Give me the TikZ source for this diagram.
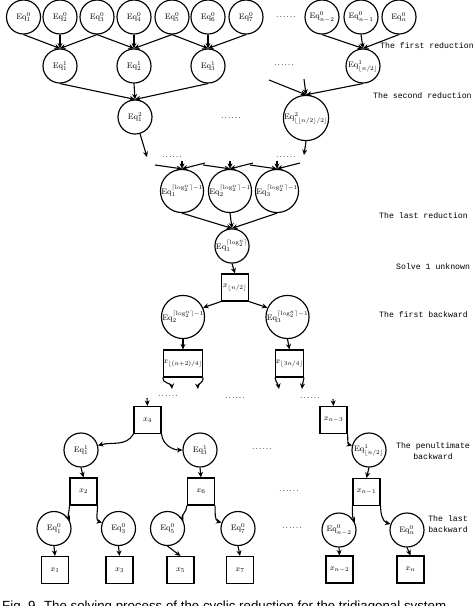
\documentclass[tikz,border=0pt]{standalone}
\usepackage{fontspec}
\usepackage{amsmath}
\newfontfamily\labfont{Liberation Mono}
\newfontfamily\capfont{Liberation Sans}
\usetikzlibrary{arrows.meta}
\begin{document}
\begin{tikzpicture}[x=1pt,y=1pt,
  eqc/.style={circle,draw,line width=1.15pt,minimum size=34pt,inner sep=0pt,font=\fontsize{8}{9}\selectfont},
  xbox/.style={rectangle,draw,line width=1.15pt,minimum size=27pt,inner sep=0pt,font=\fontsize{8}{9}\selectfont},
  arr/.style={-{Stealth[length=5.5pt,width=5pt]},line width=1.1pt},
  lab/.style={font=\labfont\fontsize{8.2}{10}\selectfont,anchor=base west,inner sep=0pt},
  labc/.style={font=\labfont\fontsize{8.2}{10.5}\selectfont,align=center,inner sep=0pt},
  dotsn/.style={font=\labfont\fontsize{5.8}{7}\selectfont,inner sep=0pt}]
\useasboundingbox (0,0) rectangle (474,-606);
% top row
\node[eqc] (a1) at (23.5,-17) {$\mathrm{Eq}_1^0$};
\node[eqc] (a2) at (60,-17) {$\mathrm{Eq}_2^0$};
\node[eqc] (a3) at (97,-17) {$\mathrm{Eq}_3^0$};
\node[eqc] (a4) at (134,-17) {$\mathrm{Eq}_4^0$};
\node[eqc] (a5) at (172,-17) {$\mathrm{Eq}_5^0$};
\node[eqc] (a6) at (208,-17) {$\mathrm{Eq}_6^0$};
\node[eqc] (a7) at (246,-17) {$\mathrm{Eq}_7^0$};
\node[dotsn] (t0) at (286,-17) {......};
\node[eqc] (an2) at (322,-17) {$\mathrm{Eq}_{n-2}^0$};
\node[eqc] (an1) at (361,-17) {$\mathrm{Eq}_{n-1}^0$};
\node[eqc] (an) at (399,-17) {$\mathrm{Eq}_n^0$};
% level 1
\node[eqc] (b1) at (60,-66) {$\mathrm{Eq}_1^1$};
\node[eqc] (b2) at (134,-66) {$\mathrm{Eq}_2^1$};
\node[eqc] (b3) at (208,-66) {$\mathrm{Eq}_3^1$};
\node[dotsn] (t1) at (284,-65) {......};
\node[eqc] (bn) at (363,-66) {$\mathrm{Eq}_{\lfloor n/2\rfloor}^1$};
\foreach \s/\t in {a1/b1,a2/b1,a3/b1,a3/b2,a4/b2,a5/b2,a5/b3,a6/b3,a7/b3,an2/bn,an1/bn,an/bn}
  \draw[arr] (\s.south) -- (\t.north);
% level 2
\node[eqc] (c1) at (135,-117) {$\mathrm{Eq}_1^2$};
\node[dotsn] (t2) at (231,-118) {......};
\node[eqc] (cn) at (306,-118) {$\mathrm{Eq}_{\lfloor\lfloor n/2\rfloor/2\rfloor}^2$};
\foreach \s in {b1,b2,b3} \draw[arr] (\s.south) -- (c1.north);
\coordinate (cu1) at (269,-80);
\coordinate (cu2) at (304,-79);
\draw[arr] (bn.south) -- (cn.north);
\draw[arr] (cu1) -- (cn.north);
\draw[arr] (cu2) -- (cn.north);
\coordinate (co1) at (147,-157);
\coordinate (co2) at (304,-155);
\draw[arr] (c1) -- (co1);
\draw[arr] (cn.south) -- (co2);
\node[dotsn] (t3) at (172,-157) {......};
\node[dotsn] (t4) at (286,-157) {......};
% log-1 level
\node[eqc] (d1) at (182,-191) {$\mathrm{Eq}_1^{\lceil\log_2^n\rceil-1}$};
\node[eqc] (d2) at (230,-191) {$\mathrm{Eq}_2^{\lceil\log_2^n\rceil-1}$};
\node[eqc] (d3) at (277,-191) {$\mathrm{Eq}_3^{\lceil\log_2^n\rceil-1}$};
\foreach \n/\x in {d1/182,d2/230,d3/277}{
  \coordinate (\n l) at (\x-27,-165);
  \coordinate (\n m) at (\x,-161);
  \coordinate (\n r) at (\x+23,-163);
  \draw[arr] (\n l) -- (\n.north);
  \draw[arr] (\n m) -- (\n.north);
  \draw[arr] (\n r) -- (\n.north);
}
\node[eqc] (e) at (232,-246) {$\mathrm{Eq}_1^{\lceil\log_2^n\rceil}$};
\foreach \s in {d1,d2,d3} \draw[arr] (\s.south) -- (e.north);
\node[xbox] (xm) at (235,-287.5) {$x_{\lfloor n/2\rfloor}$};
\draw[arr] (e.south) -- (xm.north);
% first backward
\node[eqc] (f2) at (183,-317) {$\mathrm{Eq}_2^{\lceil\log_2^n\rceil-1}$};
\node[eqc] (f3) at (287.5,-317) {$\mathrm{Eq}_3^{\lceil\log_2^n\rceil-1}$};
\draw[arr] (xm.south west) -- (f2.25);
\draw[arr] (xm.south east) -- (f3.155);
\node[xbox] (g1) at (183,-363.5) {$x_{\lfloor (n+2)/4\rfloor}$};
\node[xbox] (g2) at (289.5,-363.5) {$x_{\lfloor 3n/4\rfloor}$};
\draw[arr] (f2.south) -- (g1.north);
\draw[arr] (f3.south) -- (g2.north);
\coordinate (gla) at (172,-389);
\coordinate (glb) at (198,-389);
\coordinate (gra) at (279,-389);
\coordinate (grb) at (302,-389);
\draw[arr] (g1.south west) to[out=-100,in=95] (gla);
\draw[arr] (g1.south east) to[out=-80,in=95] (glb);
\draw[arr] (g2.south west) to[out=-80,in=100] (gra);
\draw[arr] (g2.south east) to[out=-100,in=85] (grb);
\node[dotsn] (t5) at (168,-396) {......};
\node[dotsn] (t6) at (235,-398) {......};
\node[dotsn] (t7) at (310,-398) {......};
% x4 level
\node[xbox] (h4) at (147.5,-420) {$x_4$};
\node[xbox] (hn3) at (333.5,-420) {$x_{n-3}$};
\coordinate (ha) at (147,-398);
\coordinate (hb) at (333,-399);
\draw[arr] (ha) -- (h4.north);
\draw[arr] (hb) -- (hn3.north);
% penultimate
\node[eqc] (p1) at (81,-450) {$\mathrm{Eq}_1^1$};
\node[eqc] (p3) at (200,-450) {$\mathrm{Eq}_3^1$};
\node[dotsn] (t8) at (262,-449) {......};
\node[eqc] (pn) at (369,-450) {$\mathrm{Eq}_{\lfloor n/2\rfloor}^1$};
\draw[arr] (h4.south west) to[out=-120,in=15] (p1.15);
\draw[arr] (h4.south east) to[out=-85,in=180] (p3.west);
\draw[arr] (hn3.south east) to[out=-85,in=165] (pn.165);
\node[xbox] (q2) at (83.5,-491.5) {$x_2$};
\node[xbox] (q6) at (201,-491.5) {$x_6$};
\node[dotsn] (t9) at (289,-491) {......};
\node[xbox] (qn1) at (366.5,-492) {$x_{n-1}$};
\draw[arr] (p1.south) -- (q2.north);
\draw[arr] (p3.south) -- (q6.north);
\draw[arr] (pn.south) -- (qn1.north);
% last backward
\node[eqc] (r1) at (54,-528.5) {$\mathrm{Eq}_1^0$};
\node[eqc] (r3) at (118.5,-528.5) {$\mathrm{Eq}_3^0$};
\node[eqc] (r5) at (167.5,-528.5) {$\mathrm{Eq}_5^0$};
\node[eqc] (r7) at (238,-528.5) {$\mathrm{Eq}_7^0$};
\node[dotsn] (t10) at (292,-528) {......};
\node[eqc] (rn2) at (339,-530) {$\mathrm{Eq}_{n-2}^0$};
\node[eqc] (rn) at (407,-530) {$\mathrm{Eq}_n^0$};
\draw[arr] (q2.south west) to[out=-90,in=115] (r1.25);
\draw[arr] (q2.south east) to[out=-90,in=165] (r3.160);
\draw[arr] (q6.south west) to[out=-90,in=115] (r5.25);
\draw[arr] (q6.south east) to[out=-90,in=165] (r7.160);
\draw[arr] (qn1.south west) to[out=-90,in=115] (rn2.25);
\draw[arr] (qn1.south east) to[out=-90,in=165] (rn.160);
\node[xbox] (s1) at (55,-570) {$x_1$};
\node[xbox] (s3) at (119.5,-570) {$x_3$};
\node[xbox] (s5) at (180.5,-570) {$x_5$};
\node[xbox] (s7) at (240,-570) {$x_7$};
\node[xbox] (sn2) at (339.5,-569.5) {$x_{n-2}$};
\node[xbox] (sn) at (410.5,-569.5) {$x_n$};
\foreach \s/\t in {r1/s1,r3/s3,r5/s5,r7/s7,rn2/sn2,rn/sn}
  \draw[arr] (\s.south) -- (\t.north);
% right labels
\node[lab] (l1) at (380,-48) {The first reduction};
\node[lab] (l2) at (373,-98) {The second reduction};
\node[lab] (l3) at (379,-218) {The last reduction};
\node[lab] (l4) at (396,-269) {Solve 1 unknown};
\node[lab] (l5) at (379,-317) {The first backward};
\node[labc] (l6) at (433,-451) {The penultimate\\backward};
\node[labc] (l7) at (448,-524) {The last\\backward};
% caption (cut off by the picture edge)
\begin{scope}
\clip (0,0) rectangle (474,-606);
\node[font=\capfont\fontsize{13.3}{15}\selectfont,anchor=base west,inner sep=0pt] (cap) at (2,-610) {Fig.\ 9. The solving process of the cyclic reduction for the tridiagonal system};
\end{scope}
\end{tikzpicture}
\end{document}
